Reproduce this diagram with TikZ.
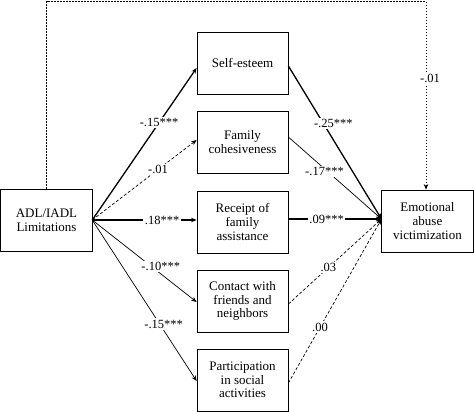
\documentclass[tikz,border=0pt]{standalone}
\usepackage{fontspec}
\setmainfont{Liberation Serif}
\usetikzlibrary{arrows.meta}
\begin{document}
\begin{tikzpicture}[x=1pt,y=-1pt,
  box/.style={draw, line width=0.8pt, minimum width=91pt, minimum height=62pt, align=center,
    font=\fontsize{13}{13.6}\selectfont, inner sep=0pt},
  lbl/.style={fill=white, inner sep=1.5pt, font=\fontsize{12.5}{13}\selectfont},
  arr/.style={-{Stealth[length=5.5pt,width=4.5pt]}},
  thickln/.style={line width=1.3pt},
  thinln/.style={line width=0.7pt},
  dashln/.style={line width=0.7pt, dash pattern=on 3pt off 2pt},
  dotln/.style={line width=0.7pt, dash pattern=on 1.5pt off 1.5pt}]
\useasboundingbox (0,0) rectangle (474,412);
\node[box] (se) at (242.5,63) {Self-esteem};
\node[box] (fc) at (242.5,142) {Family\\cohesiveness};
\node[box] (rf) at (242.5,222) {Receipt of\\family\\assistance};
\node[box] (cf) at (242.5,301) {Contact with\\friends and\\neighbors};
\node[box] (ps) at (242.5,380) {Participation\\in social\\activities};
\node[box, minimum width=91.5pt] (adl) at (46.5,220) {ADL/IADL\\Limitations};
\node[box, minimum width=91.5pt] (ea) at (427.5,221) {Emotional\\abuse\\victimization};
\coordinate (tip) at (381.5,219);
\coordinate (src) at (92.25,220);
\coordinate (c1) at (46.5,1.5);
\coordinate (c2) at (426,1.5);
% left paths
\draw[arr, thickln] (src) -- ([yshift=-5pt]se.west) node[lbl, pos=0.64] {-.15***};
\draw[arr, dashln] (src) -- ([yshift=2pt]fc.west) node[lbl, pos=0.63] {-.01};
\draw[arr, thickln] (src) -- (src -| rf.west) node[lbl, pos=0.67] {.18***};
\draw[arr, thinln] (src) -- ([yshift=-1pt]cf.west) node[lbl, pos=0.57, xshift=9pt] {-.10***};
\draw[arr, thinln] (src) -- ([yshift=-1pt]ps.west) node[lbl, pos=0.646, xshift=4pt] {-.15***};
% right paths
\draw[arr, thickln] ([yshift=-3pt]se.east) -- (tip) node[lbl, pos=0.375, xshift=10pt] {-.25***};
\draw[arr, thinln] ([yshift=5pt]fc.east) -- (tip) node[lbl, pos=0.42, xshift=-3pt] {-.17***};
\draw[arr, thickln] (tip -| rf.east) -- (tip) node[lbl, pos=0.41] {.09***};
\draw[arr, dashln] ([yshift=-3pt]cf.east) -- (tip) node[lbl, pos=0.43] {.03};
\draw[arr, dashln] ([yshift=-3pt]ps.east) -- (tip) node[lbl, pos=0.34] {.00};
% direct path
\draw[arr, dotln] (adl.north) -- (c1) -- (c2) -- (c2 |- ea.north) node[lbl, pos=0.41, xshift=4pt] {-.01};
\end{tikzpicture}
\end{document}
